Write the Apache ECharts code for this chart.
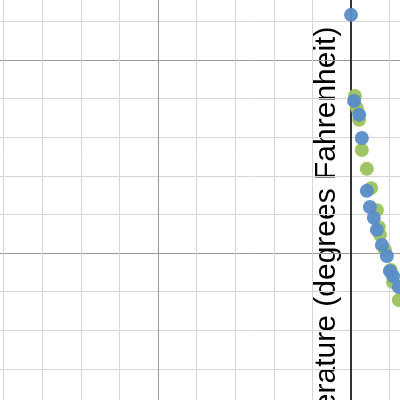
<!DOCTYPE html>
<html>
<head>
<meta charset="utf-8">
<script src="https://cdn.jsdelivr.net/npm/echarts@6/dist/echarts.min.js"></script>
<style>
html,body{margin:0;padding:0;background:#fff;width:400px;height:400px;overflow:hidden;position:relative}
#chart{position:absolute;left:-35px;top:-133px;width:579px;height:579px}
</style>
</head>
<body>
<div id="chart"></div>
<script>
var greenData = [
    [0.10, 4.07], [0.15, 3.76], [0.21, 3.45], [0.28, 2.67], [0.41, 2.18], [0.52, 1.68],
    [0.67, 1.11], [0.72, 0.67], [0.75, 0.47], [0.88, 0.08], [1.03, -0.44], [1.09, -0.75], [1.24, -1.22]
];
var blueData = [
    [0.00, 6.17], [0.08, 3.94], [0.21, 3.58], [0.28, 2.98], [0.41, 1.61], [0.49, 1.19],
    [0.59, 0.91], [0.67, 0.60], [0.80, 0.21], [0.93, -0.08], [1.01, -0.47], [1.09, -0.60], [1.24, -0.88]
];
var yTitle = 'Temperature (degrees Fahrenheit)';

// the chart div is bigger than the window, only a crop of the plot shows
var chart = echarts.init(document.getElementById('chart'));
var option = {
    animation: false,
    grid: { left: 0, top: 0, right: 0, bottom: 0 },
    xAxis: {
        type: 'value', min: -10, max: 5, interval: 5,
        axisLine: { show: false }, axisTick: { show: false }, axisLabel: { show: false },
        splitLine: { lineStyle: { color: '#9a9a9a', width: 1 } },
        minorTick: { show: false, splitNumber: 5 },
        minorSplitLine: { show: true, lineStyle: { color: '#d6d6d6', width: 1 } }
    },
    yAxis: {
        type: 'value', min: -5, max: 10, interval: 5,
        axisLine: { show: true, onZero: true, lineStyle: { color: '#333', width: 2 } },
        axisTick: { show: false }, axisLabel: { show: false },
        splitLine: { lineStyle: { color: '#9a9a9a', width: 1 } },
        minorTick: { show: false, splitNumber: 5 },
        minorSplitLine: { show: true, lineStyle: { color: '#d6d6d6', width: 1 } }
    },
    graphic: [{
        type: 'text', x: 362, y: 388, rotation: Math.PI / 2,
        style: { text: yTitle, font: '30px "Liberation Sans", Arial', fill: '#000', align: 'center', verticalAlign: 'middle' }
    }],
    series: [
        { type: 'scatter', data: greenData, symbolSize: 14, itemStyle: { color: '#9bc25d', opacity: 0.95 } },
        { type: 'scatter', data: blueData, symbolSize: 14, itemStyle: { color: '#5a8dc8', opacity: 0.95 } }
    ]
};
chart.setOption(option);
</script>
</body>
</html>
